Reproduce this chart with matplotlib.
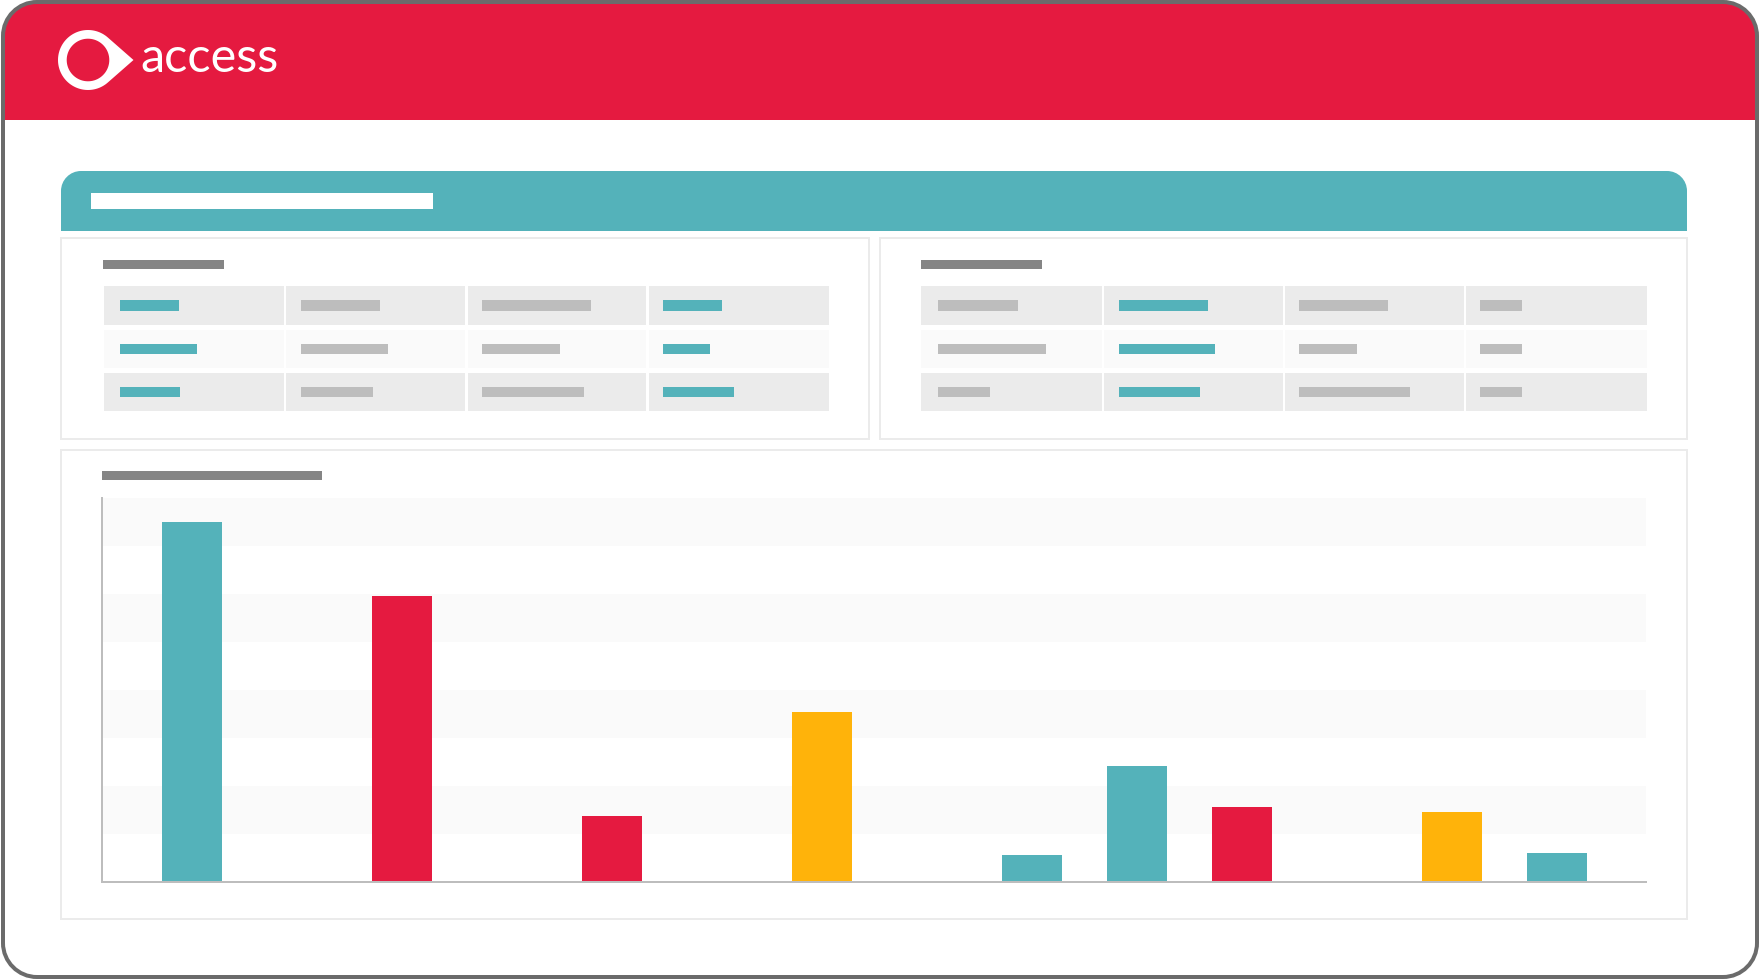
import numpy as np
import matplotlib
matplotlib.use("Agg")
import matplotlib.pyplot as plt
from matplotlib.patches import Rectangle, PathPatch
from matplotlib.path import Path

# ---- data ----
teal_values  = [375, 0, 0, 0, 0, 0, 0, 0, 28, 121, 0, 0, 0, 31]
red_values   = [0, 0, 298, 0, 69, 0, 0, 0, 0, 0, 78, 0, 0, 0]
amber_values = [0, 0, 0, 0, 0, 0, 177, 0, 0, 0, 0, 0, 73, 0]
band_edges = [50, 100, 150, 200, 250, 300, 350, 400]

left_table_widths = [
    [58.8, 79.5, 109, 59.3],
    [77.4, 87.5, 78, 47.4],
    [60, 71.9, 102, 71.4],
]
right_table_widths = [
    [79.7, 88.7, 88.7, 41.5],
    [107.7, 96.5, 57.2, 41.5],
    [51.6, 80.8, 111, 41.5],
]
brand_text = "access"

# ---- style ----
RED, TEAL, AMBER = "#E51A40", "#54B2BA", "#FFB30A"
BORDER, TITLE, FRAME = "#EBEBEB", "#858585", "#6B6B6B"
GREY_BAR, CELL_DARK, CELL_LIGHT, BAND, AXIS = "#BDBDBD", "#EBEBEB", "#FAFAFA", "#FAFAFA", "#BDBDBD"
W, H = 1760, 980
px = 72 / 100

fig = plt.figure(figsize=(W / 100, H / 100), dpi=100, facecolor="white")
bg = fig.add_axes([0, 0, 1, 1])
bg.set_xlim(0, W)
bg.set_ylim(H, 0)
bg.axis("off")


def rect(x0, y0, x1, y1, **kw):
    r = Rectangle((x0, y0), x1 - x0, y1 - y0, linewidth=kw.pop("lw", 0), **kw)
    bg.add_patch(r)
    return r


def round_path(x0, y0, x1, y1, r):
    """Rounded rectangle with circular corners (cubic Bezier)."""
    k = r * (1 - 0.5523)
    v = [(x0 + r, y0), (x1 - r, y0),
         (x1 - k, y0), (x1, y0 + k), (x1, y0 + r),
         (x1, y1 - r),
         (x1, y1 - k), (x1 - k, y1), (x1 - r, y1),
         (x0 + r, y1),
         (x0 + k, y1), (x0, y1 - k), (x0, y1 - r),
         (x0, y0 + r),
         (x0, y0 + k), (x0 + k, y0), (x0 + r, y0),
         (x0 + r, y0)]
    c = [Path.MOVETO, Path.LINETO,
         Path.CURVE4, Path.CURVE4, Path.CURVE4,
         Path.LINETO,
         Path.CURVE4, Path.CURVE4, Path.CURVE4,
         Path.LINETO,
         Path.CURVE4, Path.CURVE4, Path.CURVE4,
         Path.LINETO,
         Path.CURVE4, Path.CURVE4, Path.CURVE4,
         Path.CLOSEPOLY]
    return Path(v, c)


# frame + header
frame_path = round_path(3, 2, 1757, 977, 34)
frame = PathPatch(frame_path, fc="white", ec="none", zorder=0)
bg.add_patch(frame)
rect(0, 0, W, 120, fc=RED, zorder=1).set_clip_path(frame)
bg.add_patch(PathPatch(frame_path, fc="none", ec=FRAME, lw=4 * px, zorder=2))

# logo
cx, cy, ro, ri = 88, 60, 30, 21.3
a = np.radians(np.linspace(48, 312, 80))
outer = np.column_stack([cx + ro * np.cos(a), cy - ro * np.sin(a)])
outer = np.vstack([[133.5, 60], outer, [133.5, 60]])
b = np.radians(np.linspace(0, 360, 80))
inner = np.column_stack([cx + ri * np.cos(b), cy + ri * np.sin(b)])
verts = np.vstack([outer, inner])
codes = ([Path.MOVETO] + [Path.LINETO] * (len(outer) - 2) + [Path.CLOSEPOLY]
         + [Path.MOVETO] + [Path.LINETO] * (len(inner) - 2) + [Path.CLOSEPOLY])
bg.add_patch(PathPatch(Path(verts, codes), fc="white", ec="none", zorder=3))
bg.text(140, 72, brand_text, color="white", family="Lato", weight="normal",
        fontsize=35, va="baseline", ha="left", zorder=3)

# teal title band
clip = Rectangle((61, 171), 1626, 60, transform=bg.transData)
t = PathPatch(round_path(61, 171, 1687, 271, 20), fc=TEAL, ec="none", zorder=1)
bg.add_patch(t)
t.set_clip_path(clip)
rect(91, 193, 433, 209, fc="white", zorder=2)

# panels
for x0, y0, x1, y1 in [(61, 238, 869, 439), (879.5, 238, 1687, 439), (61, 449.5, 1687, 919)]:
    rect(x0, y0, x1, y1, fc="white", ec=BORDER, lw=2 * px, zorder=1)
rect(103.3, 260, 224, 268.5, fc=TITLE, zorder=2)
rect(921, 260, 1041.6, 268.5, fc=TITLE, zorder=2)
rect(102, 471, 322, 480, fc=TITLE, zorder=2)

# tables
row_spans = [(286, 325), (330, 368), (373, 411)]
row_colors = [CELL_DARK, CELL_LIGHT, CELL_DARK]


def draw_table(origin, widths, teal_cols):
    col_spans = [(0, 180.4), (182.9, 361.4), (364, 542.4), (545, 725.9)]
    starts = [16.5, 197.4, 378, 559]
    for r, (y0, y1) in enumerate(row_spans):
        for c, (x0, x1) in enumerate(col_spans):
            rect(origin + x0, y0, origin + x1, y1, fc=row_colors[r], zorder=2)
            bg.barh((y0 + y1) / 2, widths[r][c], left=origin + starts[c], height=10.7,
                    color=TEAL if c in teal_cols else GREY_BAR, zorder=3)


draw_table(103.5, left_table_widths, {0, 3})
draw_table(921.4, right_table_widths, {1})
bg.set_xlim(0, W)
bg.set_ylim(H, 0)

# bar chart
ax = fig.add_axes([102 / W, 1 - 882.3 / H, (1646 - 102) / W, 384 / H], facecolor="none")
slots = np.arange(len(teal_values))
ax.set_xlim(-0.859, 13.846)
ax.set_ylim(0, 400)
for lo in band_edges[::2]:
    ax.axhspan(lo, lo + 50, color=BAND, lw=0, zorder=0)
bar_w = 60 / 105
ax.bar(slots, teal_values, width=bar_w, color=TEAL, zorder=2)
ax.bar(slots, red_values, width=bar_w, color=RED, zorder=2)
ax.bar(slots, amber_values, width=bar_w, color=AMBER, zorder=2)
for s in ("top", "right"):
    ax.spines[s].set_visible(False)
for s in ("left", "bottom"):
    ax.spines[s].set_color(AXIS)
    ax.spines[s].set_linewidth(2 * px)
ax.set_xticks([])
ax.set_yticks([])

fig.savefig("out.png", dpi=100)
